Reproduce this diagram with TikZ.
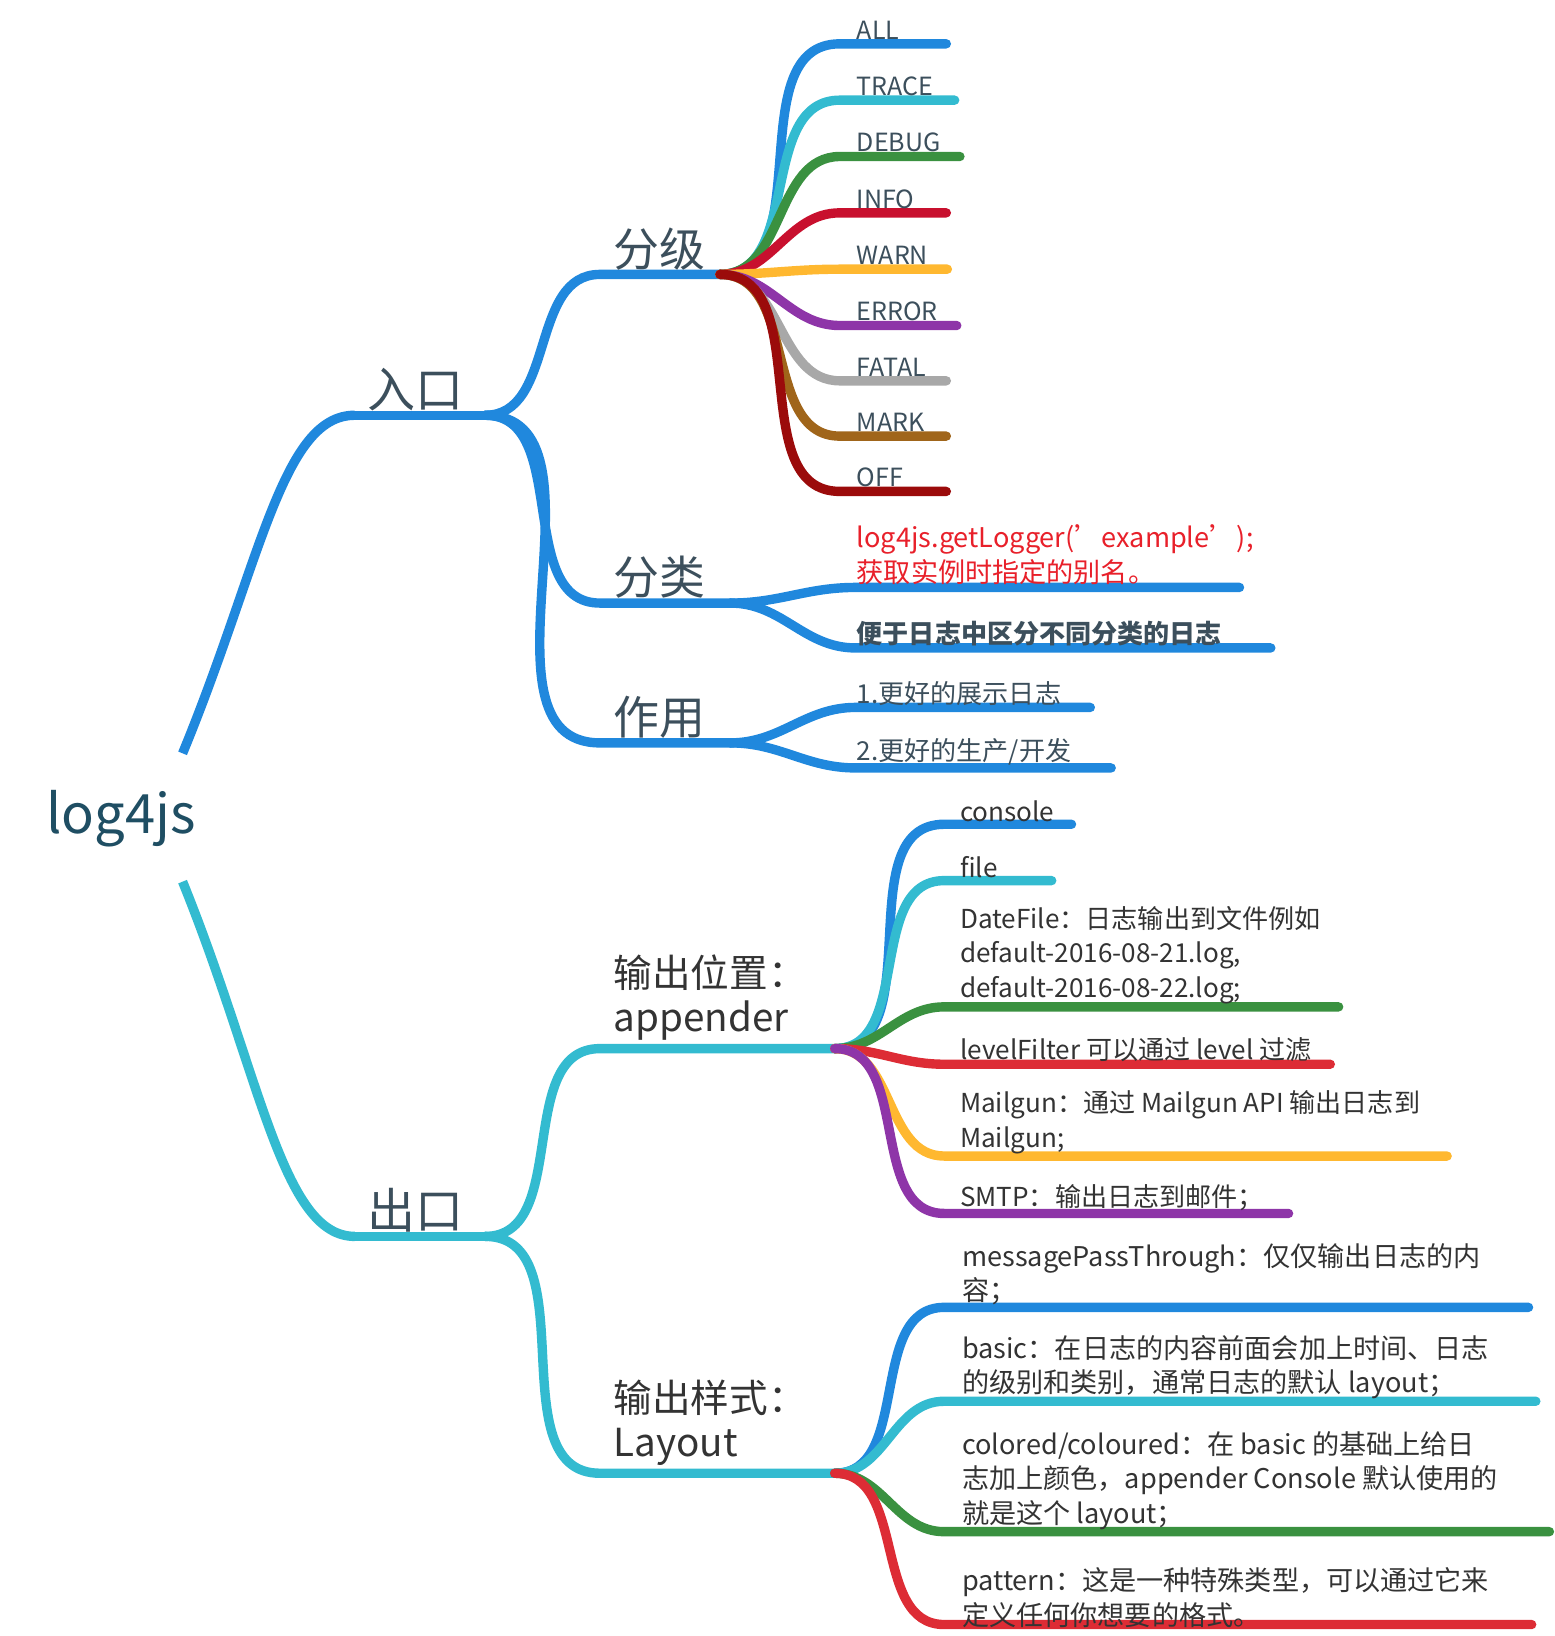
\documentclass[tikz,border=0pt]{standalone}
\usepackage{fontspec}
\setmainfont{Noto Sans CJK SC}
\definecolor{cblue}{HTML}{2088DD}
\definecolor{ccyan}{HTML}{33BBD0}
\definecolor{cgreen}{HTML}{3A9140}
\definecolor{cred}{HTML}{C8102E}
\definecolor{cred2}{HTML}{DD2C35}
\definecolor{cyellow}{HTML}{FFB830}
\definecolor{cpurple}{HTML}{8E35A8}
\definecolor{cgray}{HTML}{A8A8A8}
\definecolor{cbrown}{HTML}{A0651A}
\definecolor{cdred}{HTML}{9B0B0B}
\definecolor{ctext}{HTML}{3C4F5C}
\definecolor{cdark}{HTML}{333333}
\definecolor{croot}{HTML}{1F4E63}
\definecolor{credtext}{HTML}{E8202A}
\newcommand{\mmbranch}[6]{%
  \coordinate (#2) at (#3,#4);
  \coordinate (#2-e) at (#5,#4);
  \draw[br,#6] (#1) to[out=0,in=180] (#2) -- (#2-e);}
\begin{document}
\begin{tikzpicture}[x=1pt,y=-1pt,
  br/.style={line width=9pt,line cap=round},
  lvl/.style={anchor=south west,inner sep=0pt,text=ctext,font=\fontsize{24}{33}\selectfont},
  leaf/.style={anchor=south west,inner sep=0pt,align=left,text=cdark,font=\fontsize{25}{33}\selectfont},
  big/.style={anchor=south west,inner sep=0pt,text=ctext,font=\fontsize{46}{50}\selectfont}]
\useasboundingbox (0,0) rectangle (1490,1568);
\node[text=croot,font=\fontsize{52}{56}\selectfont] (root) at (116,785) {log4js};
\coordinate (rt) at (175,722);
\coordinate (rb) at (175,845);
% level 1
\coordinate (in1) at (340,398); \coordinate (in) at (465,398);
\draw[br,cblue,line cap=butt] (rt) .. controls (250,540) and (270,398) .. (in1);
\draw[br,cblue] (in1) -- (in);
\coordinate (out1) at (340,1185); \coordinate (out) at (465,1185);
\draw[br,ccyan,line cap=butt] (rb) .. controls (250,1030) and (270,1185) .. (out1);
\draw[br,ccyan] (out1) -- (out);
\node[big] (tin) at (352,394) {入口};
\node[big] (tout) at (352,1181) {出口};
% level 2
\mmbranch{in}{fj}{575}{263}{690}{cblue}
\mmbranch{in}{fl}{575}{578}{700}{cblue}
\mmbranch{in}{zy}{575}{712}{700}{cblue}
\node[big,font=\fontsize{44}{48}\selectfont] (tfj) at (588,259) {分级};
\node[big,font=\fontsize{44}{48}\selectfont] (tfl) at (588,574) {分类};
\node[big,font=\fontsize{44}{48}\selectfont] (tzy) at (588,708) {作用};
% levels
\mmbranch{fj-e}{l1}{805}{42}{907}{cblue}
\mmbranch{fj-e}{l2}{805}{96}{915}{ccyan}
\mmbranch{fj-e}{l3}{805}{150}{920}{cgreen}
\mmbranch{fj-e}{l4}{805}{204}{907}{cred}
\mmbranch{fj-e}{l5}{805}{258}{908}{cyellow}
\mmbranch{fj-e}{l6}{805}{312}{917}{cpurple}
\mmbranch{fj-e}{l7}{805}{365}{907}{cgray}
\mmbranch{fj-e}{l8}{805}{418}{907}{cbrown}
\mmbranch{fj-e}{l9}{805}{471}{907}{cdred}
\node[lvl] (t1) at (821,38) {ALL};
\node[lvl] (t2) at (821,92) {TRACE};
\node[lvl] (t3) at (821,146) {DEBUG};
\node[lvl] (t4) at (821,200) {INFO};
\node[lvl] (t5) at (821,254) {WARN};
\node[lvl] (t6) at (821,308) {ERROR};
\node[lvl] (t7) at (821,361) {FATAL};
\node[lvl] (t8) at (821,414) {MARK};
\node[lvl] (t9) at (821,467) {OFF};
% fenlei
\mmbranch{fl-e}{c1}{820}{563}{1188}{cblue}
\mmbranch{fl-e}{c2}{820}{621}{1218}{cblue}
\node[leaf,text=credtext,font=\fontsize{26}{34}\selectfont] (tc1) at (821,561) {log4js.getLogger('example');\\获取实例时指定的别名。};
\node[leaf,text=ctext,font=\bfseries\fontsize{25}{33}\selectfont] (tc2) at (821,619) {便于日志中区分不同分类的日志};
% zuoyong
\mmbranch{zy-e}{z1}{820}{678}{1045}{cblue}
\mmbranch{zy-e}{z2}{820}{736}{1065}{cblue}
\node[lvl,font=\fontsize{25}{33}\selectfont] (tz1) at (821,676) {1.更好的展示日志};
\node[lvl,font=\fontsize{25}{33}\selectfont] (tz2) at (821,734) {2.更好的生产/开发};
% out level 2
\mmbranch{out}{ap}{575}{1005}{800}{ccyan}
\mmbranch{out}{ly}{575}{1412}{800}{ccyan}
\node[leaf,font=\fontsize{37}{42}\selectfont] (tap) at (588,997) {输出位置：\\appender};
\node[leaf,font=\fontsize{37}{42}\selectfont] (tly) at (588,1405) {输出样式：\\Layout};
% appenders
\mmbranch{ap-e}{a1}{905}{790}{1027}{cblue}
\mmbranch{ap-e}{a2}{905}{844}{1008}{ccyan}
\mmbranch{ap-e}{a3}{905}{965}{1283}{cgreen}
\mmbranch{ap-e}{a4}{905}{1020}{1275}{cred2}
\mmbranch{ap-e}{a5}{905}{1108}{1387}{cyellow}
\mmbranch{ap-e}{a6}{905}{1163}{1235}{cpurple}
\node[leaf] (ta1) at (920,788) {console};
\node[leaf] (ta2) at (920,842) {file};
\node[leaf] (ta3) at (920,962) {DateFile：日志输出到文件例如\\default-2016-08-21.log,\\default-2016-08-22.log;};
\node[leaf] (ta4) at (920,1018) {levelFilter 可以通过 level 过滤};
\node[leaf] (ta5) at (920,1106) {Mailgun：通过 Mailgun API 输出日志到\\Mailgun;};
\node[leaf] (ta6) at (920,1161) {SMTP：输出日志到邮件；};
% layouts
\mmbranch{ly-e}{b1}{905}{1253}{1465}{cblue}
\mmbranch{ly-e}{b2}{905}{1343}{1472}{ccyan}
\mmbranch{ly-e}{b3}{905}{1468}{1485}{cgreen}
\mmbranch{ly-e}{b4}{905}{1557}{1468}{cred2}
\node[leaf,font=\fontsize{26}{33}\selectfont] (tb1) at (922,1251) {messagePassThrough：仅仅输出日志的内\\容；};
\node[leaf,font=\fontsize{26}{33}\selectfont] (tb2) at (922,1341) {basic：在日志的内容前面会加上时间、日志\\的级别和类别，通常日志的默认 layout；};
\node[leaf,font=\fontsize{26}{33}\selectfont] (tb3) at (922,1466) {colored/coloured：在 basic 的基础上给日\\志加上颜色，appender Console 默认使用的\\就是这个 layout；};
\node[leaf,font=\fontsize{26}{33}\selectfont] (tb4) at (922,1560) {pattern：这是一种特殊类型，可以通过它来\\定义任何你想要的格式。};
\end{tikzpicture}
\end{document}
